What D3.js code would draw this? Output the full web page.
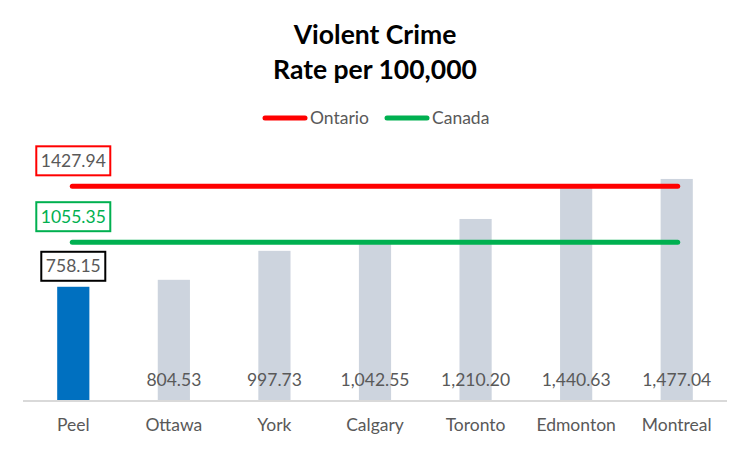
<!DOCTYPE html>
<html>
<head>
<meta charset="utf-8">
<script src="https://cdn.jsdelivr.net/npm/d3@7"></script>
<style>
  body { margin: 0; background: #fff; }
  text { font-family: Lato, "Open Sans", sans-serif; }
</style>
</head>
<body>
<div id="chart"></div>
<script>
const cities = ["Peel", "Ottawa", "York", "Calgary", "Toronto", "Edmonton", "Montreal"];
const rates = [758.15, 804.53, 997.73, 1042.55, 1210.20, 1440.63, 1477.04];
const ontarioRate = 1427.94;
const canadaRate = 1055.35;
const legendItems = [["Ontario", "#ff0000"], ["Canada", "#00b050"]];

let w = 750, h = 449, textColor = "#595959";

const svg = d3.select("#chart")
  .append("svg")
  .attr("width", w)
  .attr("height", h);

const xScale = d3.scaleBand()
  .domain(cities)
  .range([23, 727])
  .paddingInner(0.68)
  .paddingOuter(0.34);

const yScale = d3.scaleLinear()
  .domain([0, 1600])
  .range([400.5, 160.5]);

let cx = d => xScale(d) + xScale.bandwidth() / 2;
let fmt = d3.format(",.2f");

// title
svg.append("text")
  .attr("x", w / 2).attr("y", 44)
  .attr("text-anchor", "middle")
  .style("font-size", "26.5px").style("font-weight", "bold")
  .text("Violent Crime");
svg.append("text")
  .attr("x", w / 2).attr("y", 79)
  .attr("text-anchor", "middle")
  .style("font-size", "26.5px").style("font-weight", "bold")
  .text("Rate per 100,000");

// legend
let legend = svg.append("g").attr("id", "legend");
legendItems.forEach((d, i) => {
  let x0 = 265 + i * 122;
  legend.append("line")
    .attr("x1", x0).attr("x2", x0 + 40)
    .attr("y1", 118).attr("y2", 118)
    .attr("stroke", d[1]).attr("stroke-width", 5)
    .attr("stroke-linecap", "round");
  legend.append("text")
    .attr("x", x0 + 45).attr("y", 124)
    .style("font-size", "17.5px").style("fill", textColor)
    .text(d[0]);
});

// bars
svg.selectAll("rect.bar")
  .data(rates)
  .enter()
  .append("rect")
  .attr("class", "bar")
  .attr("x", (d, i) => xScale(cities[i]))
  .attr("y", d => yScale(d))
  .attr("width", xScale.bandwidth())
  .attr("height", d => yScale(0) - yScale(d))
  .style("fill", (d, i) => i == 0 ? "#0070c0" : "#cdd4de");

// x axis line
svg.append("line")
  .attr("x1", 23).attr("x2", 727)
  .attr("y1", yScale(0) + 0.5).attr("y2", yScale(0) + 0.5)
  .attr("stroke", "#d9d9d9").attr("stroke-width", 2);

// bar values near the base (skip Peel, it gets a box)
svg.selectAll("text.val")
  .data(rates.slice(1))
  .enter()
  .append("text")
  .attr("class", "val")
  .attr("x", (d, i) => cx(cities[i + 1]))
  .attr("y", 386)
  .attr("text-anchor", "middle")
  .style("font-size", "17.5px").style("fill", textColor)
  .text(d => fmt(d));

// category labels
svg.selectAll("text.cat")
  .data(cities)
  .enter()
  .append("text")
  .attr("class", "cat")
  .attr("x", d => cx(d))
  .attr("y", 431)
  .attr("text-anchor", "middle")
  .style("font-size", "17.5px").style("fill", textColor)
  .text(d => d);

// reference lines
[[ontarioRate, "#ff0000"], [canadaRate, "#00b050"]].forEach(d => {
  svg.append("line")
    .attr("x1", cx(cities[0]) - 1).attr("x2", cx(cities[cities.length - 1]) + 1)
    .attr("y1", yScale(d[0])).attr("y2", yScale(d[0]))
    .attr("stroke", d[1]).attr("stroke-width", 5)
    .attr("stroke-linecap", "round");
});

// boxed labels above lines and Peel bar
let boxes = [
  { v: ontarioRate, stroke: "#ff0000", fill: textColor, w: 74, gap: 11 },
  { v: canadaRate, stroke: "#00b050", fill: "#00b050", w: 74, gap: 11 },
  { v: rates[0], stroke: "#000000", fill: textColor, w: 64, gap: 6 }
];
boxes.forEach(b => {
  let bottom = yScale(b.v) - b.gap, x0 = cx(cities[0]);
  svg.append("rect")
    .attr("x", x0 - b.w / 2).attr("y", bottom - 29)
    .attr("width", b.w).attr("height", 29)
    .attr("fill", "#fff").attr("stroke", b.stroke).attr("stroke-width", 2);
  svg.append("text")
    .attr("x", x0).attr("y", bottom - 8.5)
    .attr("text-anchor", "middle")
    .style("font-size", "17.5px").style("fill", b.fill)
    .text(b.v.toFixed(2));
});
</script>
</body>
</html>
